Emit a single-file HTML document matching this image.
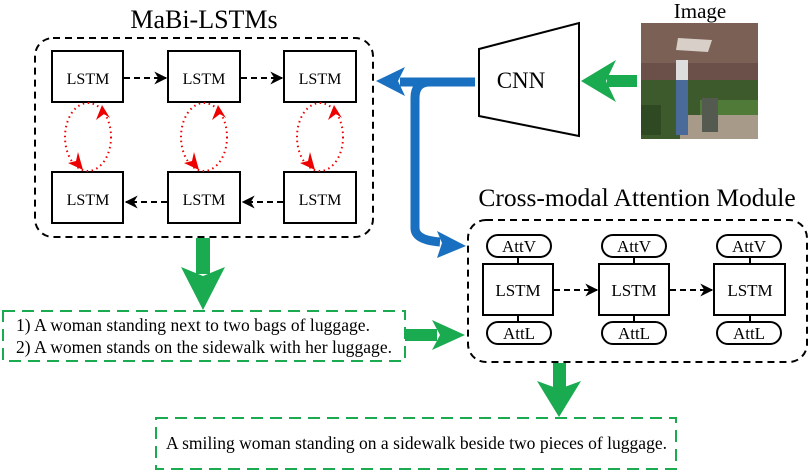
<!DOCTYPE html>
<html><head><meta charset="utf-8"><style>
html,body{margin:0;padding:0;background:#fff;}
svg{display:block;}
text{font-family:"Liberation Serif","Times New Roman",serif;}
</style></head><body>
<svg width="808" height="473" viewBox="0 0 808 473" xmlns="http://www.w3.org/2000/svg" font-family="Liberation Serif, serif">
<defs>
<marker id="ab" viewBox="0 0 10 10" refX="9" refY="5" markerWidth="13" markerHeight="13" orient="auto" markerUnits="userSpaceOnUse"><path d="M0,0 L10,5 L0,10 L3,5 z" fill="#000"/></marker>
</defs>
<!-- MaBi -->
<text x="204" y="28" font-size="26" text-anchor="middle">MaBi-LSTMs</text>
<rect x="35" y="38" width="338" height="199" rx="18" fill="none" stroke="#000" stroke-width="2" stroke-dasharray="7,5"/>
<g stroke="#000" stroke-width="2" fill="#fff">
<rect x="52" y="51" width="71" height="51"/><rect x="168" y="51" width="72" height="51"/><rect x="284" y="51" width="72" height="51"/>
<rect x="52" y="172" width="71" height="51"/><rect x="168" y="172" width="72" height="51"/><rect x="284" y="172" width="72" height="51"/>
</g>
<g font-size="16" text-anchor="middle">
<text x="88" y="84">LSTM</text><text x="204" y="84">LSTM</text><text x="320" y="84">LSTM</text>
<text x="88" y="205">LSTM</text><text x="204" y="205">LSTM</text><text x="320" y="205">LSTM</text>
</g>
<g stroke="#000" stroke-width="2" stroke-dasharray="6,4" fill="none">
<line x1="124" y1="78" x2="166" y2="78" marker-end="url(#ab)"/>
<line x1="241" y1="78" x2="282" y2="78" marker-end="url(#ab)"/>
<line x1="167" y1="202" x2="126" y2="202" marker-end="url(#ab)"/>
<line x1="283" y1="202" x2="243" y2="202" marker-end="url(#ab)"/>
</g>
<g stroke="#e00" stroke-width="2" stroke-dasharray="1.5,3.5" fill="none">
<ellipse cx="88" cy="137" rx="23" ry="34"/>
<ellipse cx="204" cy="137" rx="23" ry="34"/>
<ellipse cx="320" cy="137" rx="23" ry="34"/>
</g>
<g fill="#e00">
<path d="M102,105 L110,118 L104,114 L96,120 z"/><path d="M218,105 L226,118 L220,114 L212,120 z"/><path d="M334,105 L342,118 L336,114 L328,120 z"/>
<path d="M83,170 L68,163 L76,161 L78,152 z"/><path d="M199,170 L184,163 L192,161 L194,152 z"/><path d="M315,170 L300,163 L308,161 L310,152 z"/>
</g>
<!-- CNN -->
<polygon points="479,49 579,23 579,136 479,116" fill="#fff" stroke="#000" stroke-width="2"/>
<text x="521" y="88" font-size="23" text-anchor="middle">CNN</text>
<!-- Image -->
<text x="700" y="18" font-size="21" text-anchor="middle">Image</text>
<g>
<rect x="641" y="23" width="117" height="116" fill="#6a5048"/>
<rect x="641" y="23" width="117" height="40" fill="#7a6055"/>
<polygon points="678,38 712,40 708,52 676,50" fill="#d8d0c8"/>
<rect x="641" y="80" width="117" height="59" fill="#3d5a2c"/>
<rect x="700" y="100" width="58" height="39" fill="#4f7a38"/>
<rect x="680" y="115" width="78" height="24" fill="#a89a88"/>
<rect x="676" y="60" width="12" height="20" fill="#ddd"/>
<rect x="676" y="80" width="12" height="55" fill="#4a6a9a"/>
<rect x="702" y="98" width="16" height="34" fill="#555a50"/>
<rect x="641" y="105" width="20" height="30" fill="#2f4a22"/>
</g>
<!-- green arrow image->CNN -->
<rect x="607" y="75" width="30" height="12" fill="#1aaa50"/>
<path d="M581,81 L616,60 L606,81 L616,102 z" fill="#1aaa50"/>
<!-- blue arrows -->
<path d="M475,82 L400,82" stroke="#1a70c0" stroke-width="9" fill="none"/>
<path d="M376,81 L405,67 L398,81 L405,96 z" fill="#1a70c0"/>
<path d="M430,82 Q415,82 415,98 L415,228 Q415,240 440,242" stroke="#1a70c0" stroke-width="9" fill="none"/>
<path d="M466,246 L437,231 L442,243 L437,258 z" fill="#1a70c0"/>
<!-- Cross module -->
<text x="637" y="206" font-size="25.5" text-anchor="middle">Cross-modal Attention Module</text>
<rect x="468" y="220" width="339" height="142" rx="18" fill="none" stroke="#000" stroke-width="2" stroke-dasharray="7,5"/>
<g stroke="#000" stroke-width="2" fill="#fff">
<line x1="518" y1="257" x2="518" y2="322"/><line x1="634" y1="257" x2="634" y2="322"/><line x1="750" y1="257" x2="750" y2="322"/>
<rect x="487" y="235" width="64" height="22" rx="11"/><rect x="602" y="235" width="64" height="22" rx="11"/><rect x="717" y="235" width="64" height="22" rx="11"/>
<rect x="483" y="264" width="70" height="51"/><rect x="599" y="264" width="70" height="51"/><rect x="714" y="264" width="71" height="51"/>
<rect x="487" y="322" width="64" height="22" rx="11"/><rect x="602" y="322" width="64" height="22" rx="11"/><rect x="717" y="322" width="64" height="22" rx="11"/>
</g>
<g font-size="17" text-anchor="middle">
<text x="519" y="252">AttV</text><text x="634" y="252">AttV</text><text x="749" y="252">AttV</text>
<text x="518" y="296">LSTM</text><text x="634" y="296">LSTM</text><text x="750" y="296">LSTM</text>
<text x="519" y="339">AttL</text><text x="634" y="339">AttL</text><text x="749" y="339">AttL</text>
</g>
<g stroke="#000" stroke-width="2" stroke-dasharray="6,4" fill="none">
<line x1="554" y1="290" x2="597" y2="290" marker-end="url(#ab)"/>
<line x1="670" y1="290" x2="712" y2="290" marker-end="url(#ab)"/>
</g>
<!-- green arrows -->
<rect x="196" y="238" width="14" height="36" fill="#1aaa50"/>
<path d="M203,310 L181,267 L203,276 L225,267 z" fill="#1aaa50"/>
<rect x="405" y="329" width="32" height="12" fill="#1aaa50"/>
<path d="M465,335 L432,320 L440,335 L432,350 z" fill="#1aaa50"/>
<rect x="553" y="363" width="13" height="26" fill="#1aaa50"/>
<path d="M559,417 L537,381 L559,389 L581,381 z" fill="#1aaa50"/>
<!-- text boxes -->
<rect x="3" y="311" width="402" height="50" fill="none" stroke="#1aaa50" stroke-width="2" stroke-dasharray="12,7"/>
<text x="16" y="331" font-size="17.5" textLength="354" lengthAdjust="spacing">1) A woman standing next to two bags of luggage.</text>
<text x="16" y="353" font-size="17.5" textLength="376" lengthAdjust="spacing">2) A women stands on the sidewalk with her luggage.</text>
<rect x="156" y="418" width="520" height="51" fill="none" stroke="#1aaa50" stroke-width="2" stroke-dasharray="12,7"/>
<text x="166" y="449" font-size="17.5" textLength="501" lengthAdjust="spacing">A smiling woman standing on a sidewalk beside two pieces of luggage.</text>
</svg>
</body></html>
